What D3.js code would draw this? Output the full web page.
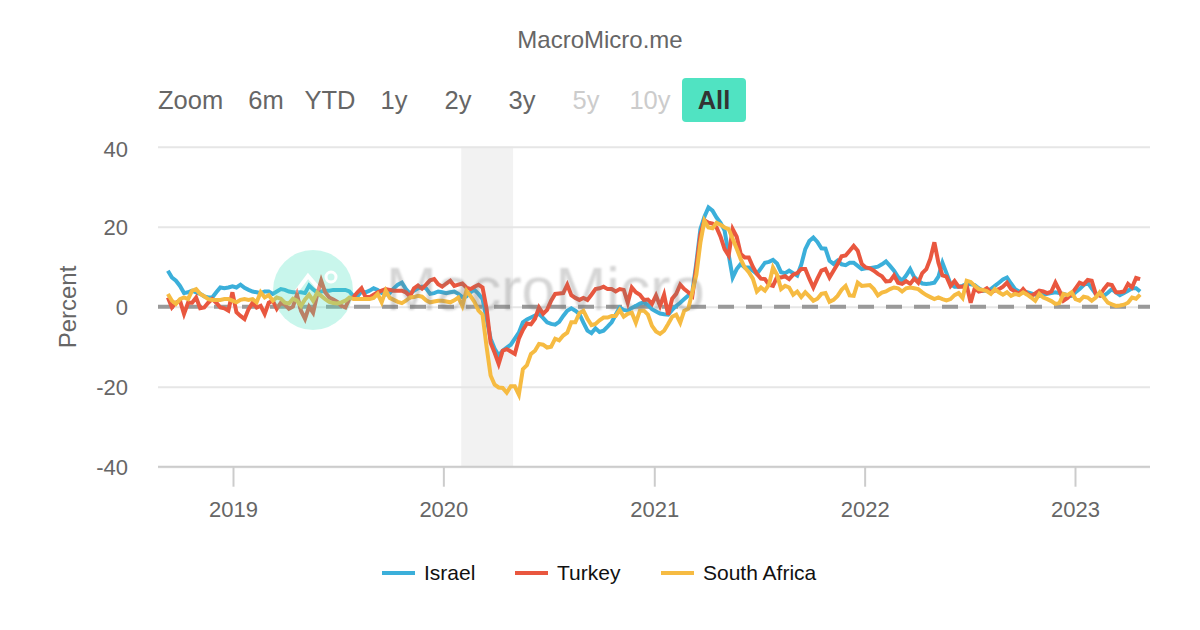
<!DOCTYPE html>
<html>
<head>
<meta charset="utf-8">
<style>
  html, body { margin: 0; background: #fff; }
  svg { display: block; font-family: "Liberation Sans", Arial, sans-serif; }
</style>
</head>
<body>
<svg width="1200" height="630"></svg>
<script src="https://d3js.org/d3.v7.min.js"></script>
<script>

// weekly values, ten per row
var israel = [
  9,7.3,6.5,5.2,3.4,3.6,4,3.6,3.2,2.6,
  2.3,2.3,3.6,4.8,4.6,4.8,5.1,4.8,5.5,4.7,
  4.2,3.8,3.6,3.4,3.8,3.8,3.2,3.8,4.4,4.2,
  3.8,3.6,3.6,3.6,3.4,5.3,4.3,3.6,3.8,4,
  4,4.2,4.2,4.2,4.2,3.8,2.6,2.6,3.8,3.6,
  4,4.6,4.2,3.4,3,3.4,4.6,5.5,6,4.4,
  3.3,4,4.6,5,4.6,3.2,3.4,3.8,3.6,3.4,
  3.6,3.8,3.2,2.4,2.6,3.6,4.2,3.2,1.9,-3,
  -8,-10.5,-12.2,-11,-10.2,-9.5,-8,-6.5,-3.9,-3.2,
  -2.7,-2.2,-1.8,-2.8,-3.9,-4.3,-4.5,-3.8,-2.3,-1,
  -0.4,-1,-1.8,-4,-6,-6.6,-5.4,-6.3,-6,-5,
  -3.9,-2,-0.2,-0.8,-1,-0.3,0.2,0.8,1.1,0.4,
  -0.6,-1.2,-1.7,-1.9,-2,-0.8,0.2,1,1.9,2.8,
  3.6,11,19.4,22.5,24.8,24,22.3,21,19,13,
  7.3,9.4,10.7,9.8,9.8,9,8.2,9.6,11,11.2,
  11.7,10.8,8.6,8.4,9,8.4,7.8,10.5,14.4,16.4,
  17.3,16.2,14.6,14.5,11.5,10.7,11.5,10.6,10.4,11,
  11,10.2,9.4,9.6,9.6,9.8,10,10.6,11.3,10.2,
  9,7.4,6.5,7.8,9.4,7.4,6.5,5.8,5.7,5.8,
  6,7.5,11,8.4,5.7,5,5,5.2,5.7,5.6,
  5.4,4.6,4,4,4.4,5.2,6,6.8,7.3,5.8,
  4.4,3.8,3.8,3.6,3.3,3,2.7,3,3.2,3.4,
  3.6,3.4,3.2,2.9,2.7,3.6,4.4,5.4,6,4.6,
  3.2,2.8,2.7,3.5,4.4,3.6,2.9,3.4,4,4.6,
  4.6,3.8];
var turkey = [
  2.3,-0.2,1,1.5,-1.8,1,1,2.3,-0.4,-0.2,
  1,1.9,1,-0.2,-0.4,-1,3.6,-1.4,-2.3,-3.1,
  -0.6,1,-0.2,0.2,-1.8,1,1.5,-0.5,1,0.5,
  -0.5,0,3,-1,-3,0,-1.5,3,6.5,3.6,
  2.3,1.8,1.2,0.2,-0.2,2,2.4,3.6,4.6,2.4,
  2.4,3,3.6,4,4.4,4.2,4,4,4,3.6,
  2.6,4.6,5.3,4.5,5.5,6.6,6.9,5.6,5,5.8,
  6.5,5.2,5.5,5.8,4.8,4.4,5,5.5,4.8,-0.5,
  -9,-11.5,-14.3,-11,-10.6,-11.2,-11.8,-8,-5.8,-4.2,
  -4.4,-3,-0.2,-1.8,-0.8,1.5,3.2,3.3,3.4,5.5,
  2.9,2.2,1.7,2.2,1.7,3,4.4,4.6,5,4.4,
  4.4,3.8,4.4,4.2,1,4.8,3.6,3,1.7,1.8,
  0.7,2.8,0.2,3,-2,2,3.2,5.5,4.4,3.6,
  2.7,10,18,21.6,21,20.8,19.8,17.5,14.4,12.8,
  19.4,17.5,13.2,12.3,12.3,10,8.2,7,6.9,5.5,
  5.2,7.4,7.3,7.6,6.9,8,8.4,9.4,9.4,7,
  4.8,7,9,9.4,7.3,9,10.7,12.6,12.8,14,
  15.2,14,10.7,9.8,9.6,9,8.2,7.6,6.3,6.4,
  7.8,6,5.7,6.4,5.7,7,6,8.4,9.4,12,
  16.1,11,7.8,7.5,5.2,6.4,5,5,5.4,1,
  4.6,3.8,4,4.6,3.6,4,4.4,5,6,4.4,
  3.8,3.2,4.4,3.2,2.7,3.3,4,3.8,3.4,3.8,
  6,4,1.5,2.2,3.2,4.6,6,5.6,6.7,6.5,
  3.2,2.8,4.4,5.6,5.4,3.6,3.6,3.8,5.7,4.8,
  7.2,6.9];
var southAfrica = [
  3.2,1.5,0.7,1.9,2.3,1.9,4,4.4,3.2,2.6,
  1.9,1.7,1.7,1.7,1.9,1.9,1.5,1.1,1.7,1.9,
  1.7,1.9,1.1,3.6,2.3,2.9,1.5,2.3,2,1,
  0.8,2,1.5,0.2,1.8,3,1.5,3.5,2.7,1.9,
  1.2,0.9,0.8,1.1,1.5,2.3,1.9,1.9,1.9,1.9,
  1.9,2.2,3.2,1.1,4,2.2,1.7,1.2,0.9,1.5,
  2.3,2.4,2.7,2.5,1.6,1.1,1.3,1.5,1.5,1.3,
  1.1,1.6,2.3,0.2,4,2.7,1.2,-1,-2,-10,
  -17.2,-19.5,-20.2,-20.3,-21.5,-19.9,-19.9,-22,-15.6,-14.6,
  -11.8,-11,-9.3,-9.5,-10.2,-10,-8,-8.4,-7.2,-6.5,
  -3.9,-3.9,-1.6,-1,-3,-4.6,-4.3,-3.4,-2.7,-2.7,
  -2.3,-2.3,-0.8,-2.5,-1.8,-1.5,-4,-1,-1,-2,
  -4.8,-6.2,-6.8,-6,-4.3,-2.5,-2,-4,-1,-0.5,
  3.6,8,16,21.5,19.8,19.6,21,20.5,19.8,19.4,
  17,14.5,11.9,9.8,8.6,7,3.8,4.8,4,5.5,
  9.8,8,4.4,5.2,4.8,3,3.8,2.4,3.6,2.6,
  1.5,2,3.2,3.4,1.2,1.7,2.7,4.2,5.2,2.8,
  2.7,6,5.2,5.3,5.4,4.4,2.8,3.5,3.8,4.4,
  4.8,4.6,3.8,4.6,4.8,4.6,4.4,3.6,2.9,2.4,
  1.9,2.3,1.9,1.6,1.9,2.9,3.4,2.2,6.5,6.2,
  5.2,4.4,4.2,3.9,3.2,4.4,3.6,3,3.6,2.7,
  3.2,2.9,3.6,3,2.3,1.5,3.2,2.3,1.9,1.4,
  0.7,0.9,3.2,2.9,3.6,1.9,1.5,2.5,2.3,1.5,
  2.3,3.6,2.3,1,0.6,0.2,0.3,0.5,1,2.3,
  2,3];
var seriesNames = ["Israel", "Turkey", "South Africa"];
var seriesColors = ["#3bafda", "#e9573f", "#f6bb42"];
var yTicks = [-40, -20, 0, 20, 40];
var yearTicks = [2019, 2020, 2021, 2022, 2023];
var rangeLabels = ["6m", "YTD", "1y", "2y", "3y", "5y", "10y"];
var rangeX = [266, 330, 394, 458, 522, 586, 650];
var recession = [new Date(Date.UTC(2020, 1, 1)), new Date(Date.UTC(2020, 4, 1))];

var dates = d3.utcDay.range(new Date(Date.UTC(2018, 8, 10)), new Date(Date.UTC(2023, 3, 30)), 7);

var svg = d3.select("svg");

// time scale pinned on the year ticks, plot runs 158..1150
var x = d3.scaleUtc()
    .domain([new Date(Date.UTC(2019, 0, 1)), new Date(Date.UTC(2023, 0, 1))])
    .range([233, 1075]);
var y = d3.scaleLinear().domain([-40, 40]).range([466.7, 146.7]);

// title
svg.append("text")
    .attr("x", 600).attr("y", 48)
    .attr("text-anchor", "middle")
    .attr("font-size", 24)
    .attr("fill", "#666")
    .text("MacroMicro.me");

// range selector
svg.append("text")
    .attr("x", 158).attr("y", 109)
    .attr("font-size", 25.5)
    .attr("fill", "#666")
    .text("Zoom");
svg.selectAll(".range")
  .data(rangeLabels)
  .enter().append("text")
    .attr("class", "range")
    .attr("x", function(d, i) { return rangeX[i]; })
    .attr("y", 109)
    .attr("text-anchor", "middle")
    .attr("font-size", 25.5)
    .attr("fill", function(d) { return d == "5y" || d == "10y" ? "#ccc" : "#666"; })
    .text(function(d) { return d; });
svg.append("rect")
    .attr("x", 682).attr("y", 78)
    .attr("width", 64).attr("height", 44)
    .attr("rx", 4)
    .attr("fill", "#50e3c2");
svg.append("text")
    .attr("x", 714).attr("y", 109)
    .attr("text-anchor", "middle")
    .attr("font-size", 25.5)
    .attr("font-weight", "bold")
    .attr("fill", "#333")
    .text("All");

// recession band
svg.append("rect")
    .attr("x", x(recession[0])).attr("y", y(40))
    .attr("width", x(recession[1]) - x(recession[0]))
    .attr("height", y(-40) - y(40))
    .attr("fill", "#f2f2f2");

// y axis, grid lines are the ticks
var yAxis = svg.append("g")
    .attr("transform", "translate(158,0)")
    .call(d3.axisLeft(y).tickValues(yTicks).tickSize(-992).tickPadding(30).tickFormat(function(d) { return String(d); }));
yAxis.select(".domain").remove();
yAxis.selectAll("line").attr("stroke", "#e6e6e6").attr("stroke-width", 2);
yAxis.selectAll("text")
    .attr("font-size", 22).attr("fill", "#666").attr("font-family", "inherit")
    .attr("y", function(d) { return d == 40 ? 3 : 1; });

// x axis
var xAxis = svg.append("g")
    .attr("transform", "translate(0,466.7)")
    .call(d3.axisBottom(x)
        .tickValues(yearTicks.map(function(d) { return new Date(Date.UTC(d, 0, 1)); }))
        .tickSize(20).tickPadding(15).tickFormat(d3.utcFormat("%Y")));
xAxis.select(".domain").attr("d", "M158,0H1150").attr("stroke", "#ccc").attr("stroke-width", 2);
xAxis.selectAll("line").attr("stroke", "#ccc").attr("stroke-width", 2);
xAxis.selectAll("text").attr("font-size", 22).attr("fill", "#666").attr("font-family", "inherit");

svg.append("text")
    .attr("transform", "translate(76,307) rotate(-90)")
    .attr("text-anchor", "middle")
    .attr("font-size", 24)
    .attr("fill", "#666")
    .text("Percent");

// dashed zero line sits under the series
svg.append("line")
    .attr("x1", 158).attr("x2", 1150)
    .attr("y1", y(0)).attr("y2", y(0))
    .attr("stroke", "#999")
    .attr("stroke-width", 4)
    .attr("stroke-dasharray", "16,12");

var line = d3.line()
    .x(function(d, i) { return x(dates[i]); })
    .y(function(d) { return y(d); });

[israel, turkey, southAfrica].forEach(function(values, k) {
  svg.append("path")
      .attr("d", line(values))
      .attr("fill", "none")
      .attr("stroke", seriesColors[k])
      .attr("stroke-width", 4)
      .attr("stroke-linejoin", "miter");
});

// watermark goes over the lines, text is a bit soft in the original
var defs = svg.append("defs");
defs.append("filter").attr("id", "soft")
  .append("feGaussianBlur").attr("stdDeviation", 0.8);
var mark = svg.append("g").attr("opacity", 0.3);
mark.append("circle")
    .attr("cx", 313).attr("cy", 290).attr("r", 40)
    .attr("fill", "#50e3c2");
mark.append("path")
    .attr("d", "M296,292L308,276L320,290")
    .attr("fill", "none")
    .attr("stroke", "#fff")
    .attr("stroke-width", 4);
mark.append("circle")
    .attr("cx", 331).attr("cy", 277).attr("r", 5)
    .attr("fill", "none")
    .attr("stroke", "#fff")
    .attr("stroke-width", 3);
mark.append("text")
    .attr("x", 386).attr("y", 310)
    .attr("font-size", 61)
    .attr("fill", "#777")
    .attr("filter", "url(#soft)")
    .text("MacroMicro");

// legend
var legendX = [382, 515, 661];
seriesNames.forEach(function(name, k) {
  svg.append("line")
      .attr("x1", legendX[k]).attr("x2", legendX[k] + 33)
      .attr("y1", 573).attr("y2", 573)
      .attr("stroke", seriesColors[k])
      .attr("stroke-width", 4);
  svg.append("text")
      .attr("x", legendX[k] + 42).attr("y", 580)
      .attr("font-size", 21)
      .attr("fill", "#111")
      .text(name);
});

</script>
</body>
</html>
